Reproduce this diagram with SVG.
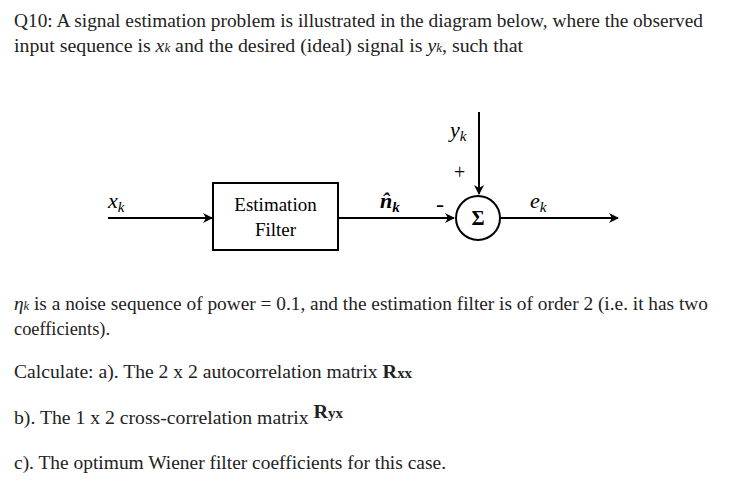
<svg xmlns="http://www.w3.org/2000/svg" width="751" height="495" viewBox="0 0 751 495">
<style>
.t{font-family:"Liberation Serif",serif;font-size:18.5px;fill:#222}
.d{font-family:"Liberation Serif",serif;fill:#000}
.i{font-style:italic}
.l{stroke:#000;stroke-width:2;fill:none}
</style>
<defs><marker id="a" markerWidth="10" markerHeight="10" refX="9" refY="5" orient="auto" markerUnits="userSpaceOnUse"><path d="M0,0 L10,5 L0,10 L3,5z" fill="#000"/></marker></defs>
<rect width="751" height="495" fill="#fff"/>
<text class="t" x="14" y="27" textLength="689" lengthAdjust="spacingAndGlyphs">Q10: A signal estimation problem is illustrated in the diagram below, where the observed</text>
<text class="t" x="14" y="52" textLength="509" lengthAdjust="spacingAndGlyphs">input sequence is <tspan class="i">x</tspan><tspan class="i" font-size="12">k</tspan> and the desired (ideal) signal is <tspan class="i">y</tspan><tspan class="i" font-size="12">k</tspan>, such that</text>
<g id="connectors">
<line class="l" x1="108" y1="218" x2="212" y2="218" marker-end="url(#a)"/>
<line class="l" x1="338" y1="218" x2="454" y2="218" marker-end="url(#a)"/>
<line class="l" x1="479" y1="112" x2="479" y2="194" marker-end="url(#a)"/>
<line class="l" x1="501" y1="218" x2="618" y2="218" marker-end="url(#a)"/>
</g>
<g id="filter"><rect class="l" x="213" y="183" width="125" height="67"/>
<text class="d" x="275.500" y="211" font-size="19" text-anchor="middle">Estimation</text>
<text class="d" x="275.500" y="236" font-size="19" text-anchor="middle">Filter</text></g>
<g id="sum"><circle class="l" cx="478" cy="218" r="22"/><text class="d" x="478" y="225" font-size="20" font-weight="bold" text-anchor="middle">Σ</text></g>
<g id="labels" class="d">
<text class="i" x="108" y="208" font-size="22">x<tspan font-size="15" dy="4">k</tspan></text>
<text class="i" x="380" y="208" font-size="22" font-weight="bold">n̂<tspan font-size="15" dy="4">k</tspan></text>
<text class="i" x="450" y="137" font-size="22">y<tspan font-size="15" dy="4">k</tspan></text>
<text class="i" x="530" y="208" font-size="22">e<tspan font-size="15" dy="4">k</tspan></text>
<text x="454" y="179" font-size="20">+</text>
<text x="436" y="212" font-size="24">-</text>
</g>
<text class="t" x="14" y="310" textLength="694" lengthAdjust="spacingAndGlyphs"><tspan class="i">η</tspan><tspan class="i" font-size="12">k</tspan> is a noise sequence of power = 0.1, and the estimation filter is of order 2 (i.e. it has two</text>
<text class="t" x="14" y="335" textLength="96" lengthAdjust="spacingAndGlyphs">coefficients).</text>
<text class="t" x="14" y="378" textLength="398" lengthAdjust="spacingAndGlyphs">Calculate: a). The 2 x 2 autocorrelation matrix <tspan font-weight="bold" font-size="19">R</tspan><tspan font-weight="bold" font-size="14">xx</tspan></text>
<text class="t" x="14" y="424" textLength="329" lengthAdjust="spacingAndGlyphs">b). The 1 x 2 cross-correlation matrix <tspan font-weight="bold" font-size="19" dy="-6">R</tspan><tspan font-weight="bold" font-size="14">yx</tspan></text>
<text class="t" x="14" y="469" textLength="432" lengthAdjust="spacingAndGlyphs">c). The optimum Wiener filter coefficients for this case.</text>
</svg>
